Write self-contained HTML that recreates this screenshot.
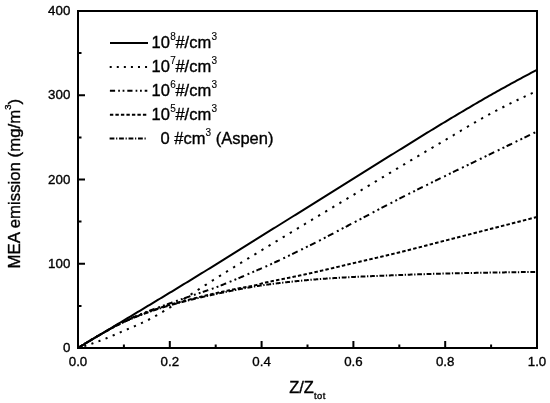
<!DOCTYPE html>
<html><head><meta charset="utf-8"><style>
html,body{margin:0;padding:0;background:#fff;}
svg{display:block;}
</style></head><body>
<svg width="550" height="403" viewBox="0 0 550 403" style="font-family:'Liberation Sans', Arial, sans-serif">
<rect width="550" height="403" fill="#fff"/>
<g fill="none" stroke="#000" stroke-width="2" stroke-linecap="butt" stroke-linejoin="round">
<path d="M78.00,348.00 L80.00,346.80 L81.99,345.60 L83.99,344.40 L85.98,343.19 L87.98,341.99 L89.97,340.79 L91.97,339.59 L93.97,338.39 L95.96,337.19 L97.96,335.99 L99.95,334.78 L101.95,333.58 L103.94,332.38 L105.94,331.18 L107.93,329.98 L109.93,328.78 L111.93,327.57 L113.92,326.37 L115.92,325.17 L117.91,323.97 L119.91,322.77 L121.90,321.57 L123.90,320.37 L125.90,319.16 L127.89,317.96 L129.89,316.77 L131.88,315.57 L133.88,314.37 L135.87,313.17 L137.87,311.97 L139.87,310.77 L141.86,309.58 L143.86,308.38 L145.85,307.18 L147.85,305.98 L149.84,304.78 L151.84,303.58 L153.83,302.38 L155.83,301.18 L157.83,299.98 L159.82,298.77 L161.82,297.57 L163.81,296.36 L165.81,295.15 L167.80,293.94 L169.80,292.73 L171.80,291.52 L173.79,290.31 L175.79,289.09 L177.78,287.87 L179.78,286.66 L181.77,285.44 L183.77,284.22 L185.77,283.00 L187.76,281.78 L189.76,280.56 L191.75,279.34 L193.75,278.11 L195.74,276.89 L197.74,275.66 L199.73,274.44 L201.73,273.21 L203.73,271.98 L205.72,270.75 L207.72,269.52 L209.71,268.29 L211.71,267.06 L213.70,265.83 L215.70,264.59 L217.70,263.36 L219.69,262.12 L221.69,260.88 L223.68,259.64 L225.68,258.40 L227.67,257.16 L229.67,255.91 L231.67,254.67 L233.66,253.42 L235.66,252.17 L237.65,250.93 L239.65,249.68 L241.64,248.43 L243.64,247.18 L245.63,245.93 L247.63,244.68 L249.63,243.43 L251.62,242.18 L253.62,240.94 L255.61,239.69 L257.61,238.44 L259.60,237.19 L261.60,235.95 L263.60,234.70 L265.59,233.46 L267.59,232.21 L269.58,230.97 L271.58,229.72 L273.57,228.47 L275.57,227.23 L277.57,225.98 L279.56,224.74 L281.56,223.49 L283.55,222.25 L285.55,221.00 L287.54,219.76 L289.54,218.51 L291.53,217.27 L293.53,216.02 L295.53,214.78 L297.52,213.53 L299.52,212.28 L301.51,211.04 L303.51,209.79 L305.50,208.55 L307.50,207.30 L309.50,206.06 L311.49,204.81 L313.49,203.57 L315.48,202.32 L317.48,201.08 L319.47,199.83 L321.47,198.58 L323.47,197.34 L325.46,196.09 L327.46,194.85 L329.45,193.60 L331.45,192.36 L333.44,191.11 L335.44,189.87 L337.43,188.62 L339.43,187.38 L341.43,186.13 L343.42,184.88 L345.42,183.64 L347.41,182.39 L349.41,181.15 L351.40,179.90 L353.40,178.66 L355.40,177.41 L357.39,176.17 L359.39,174.92 L361.38,173.67 L363.38,172.42 L365.37,171.17 L367.37,169.93 L369.37,168.68 L371.36,167.43 L373.36,166.18 L375.35,164.93 L377.35,163.68 L379.34,162.44 L381.34,161.19 L383.33,159.94 L385.33,158.70 L387.33,157.45 L389.32,156.21 L391.32,154.97 L393.31,153.73 L395.31,152.49 L397.30,151.25 L399.30,150.01 L401.30,148.78 L403.29,147.54 L405.29,146.30 L407.28,145.06 L409.28,143.83 L411.27,142.59 L413.27,141.35 L415.27,140.11 L417.26,138.88 L419.26,137.64 L421.25,136.41 L423.25,135.18 L425.24,133.95 L427.24,132.72 L429.23,131.49 L431.23,130.27 L433.23,129.05 L435.22,127.83 L437.22,126.62 L439.21,125.40 L441.21,124.19 L443.20,122.99 L445.20,121.79 L447.20,120.59 L449.19,119.39 L451.19,118.20 L453.18,117.00 L455.18,115.81 L457.17,114.62 L459.17,113.43 L461.17,112.24 L463.16,111.06 L465.16,109.87 L467.15,108.69 L469.15,107.52 L471.14,106.34 L473.14,105.18 L475.13,104.01 L477.13,102.85 L479.13,101.69 L481.12,100.53 L483.12,99.38 L485.11,98.24 L487.11,97.10 L489.10,95.96 L491.10,94.83 L493.10,93.70 L495.09,92.58 L497.09,91.46 L499.08,90.34 L501.08,89.23 L503.07,88.12 L505.07,87.01 L507.07,85.91 L509.06,84.81 L511.06,83.72 L513.05,82.62 L515.05,81.54 L517.04,80.45 L519.04,79.37 L521.03,78.29 L523.03,77.22 L525.03,76.15 L527.02,75.08 L529.02,74.02 L531.01,72.96 L533.01,71.91 L535.00,70.85 L537.00,69.81"/>
<path d="M78.00,348.00 L78.40,347.88 L78.81,347.77 L79.21,347.65 M84.30,346.12 L84.80,345.97 L85.30,345.81 L85.80,345.65 L86.30,345.49 M91.38,343.82 L91.88,343.65 L92.38,343.48 L92.88,343.30 L93.38,343.13 M98.47,341.33 L98.97,341.15 L99.47,340.96 L99.97,340.78 L100.47,340.60 M105.55,338.63 L106.05,338.43 L106.55,338.23 L107.05,338.02 L107.55,337.81 M112.64,335.65 L113.14,335.44 L113.64,335.22 L114.14,335.00 L114.64,334.78 M119.73,332.55 L120.23,332.33 L120.73,332.11 L121.23,331.89 L121.73,331.67 M126.81,329.48 L127.21,329.32 L127.61,329.15 L128.01,328.98 L128.41,328.81 L128.81,328.64 M133.90,326.49 L134.40,326.28 L134.90,326.07 L135.40,325.85 L135.90,325.64 M140.98,323.40 L141.48,323.17 L141.98,322.94 L142.48,322.71 L142.98,322.48 M148.07,320.01 L148.57,319.75 L149.07,319.49 L149.57,319.23 L150.07,318.97 M155.16,316.19 L155.66,315.90 L156.16,315.62 L156.66,315.34 L157.16,315.05 M162.24,312.07 L162.74,311.77 L163.24,311.48 L163.74,311.18 L164.24,310.88 M169.33,307.84 L169.83,307.54 L170.33,307.25 L170.83,306.95 L171.33,306.65 M176.41,303.54 L176.91,303.23 L177.41,302.92 L177.91,302.61 L178.41,302.30 M183.50,299.10 L184.00,298.79 L184.50,298.47 L185.00,298.15 L185.50,297.84 M190.59,294.61 L191.09,294.29 L191.59,293.98 L192.09,293.66 L192.59,293.34 M197.67,290.09 L198.17,289.77 L198.67,289.45 L199.17,289.13 L199.67,288.80 M204.76,285.51 L205.26,285.19 L205.76,284.86 L206.26,284.54 L206.76,284.22 M211.84,280.94 L212.34,280.62 L212.84,280.30 L213.34,279.99 L213.84,279.67 M218.93,276.46 L219.43,276.15 L219.93,275.84 L220.43,275.53 L220.93,275.21 M226.02,272.05 L226.52,271.74 L227.02,271.43 L227.52,271.12 L228.02,270.81 M233.10,267.67 L233.60,267.37 L234.10,267.06 L234.60,266.75 L235.10,266.44 M240.19,263.33 L240.69,263.02 L241.19,262.72 L241.69,262.41 L242.19,262.11 M247.27,259.00 L247.77,258.70 L248.27,258.39 L248.77,258.09 L249.27,257.78 M254.36,254.68 L254.86,254.38 L255.36,254.07 L255.86,253.77 L256.36,253.47 M261.45,250.36 L261.95,250.06 L262.45,249.75 L262.95,249.45 L263.45,249.14 M268.53,246.05 L269.03,245.74 L269.53,245.44 L270.03,245.13 L270.53,244.83 M275.62,241.74 L276.12,241.44 L276.62,241.13 L277.12,240.83 L277.62,240.53 M282.70,237.44 L283.20,237.14 L283.70,236.84 L284.20,236.54 L284.70,236.23 M289.79,233.16 L290.29,232.85 L290.79,232.55 L291.29,232.25 L291.79,231.95 M296.88,228.88 L297.38,228.57 L297.88,228.27 L298.38,227.97 L298.88,227.67 M303.96,224.60 L304.46,224.30 L304.96,224.00 L305.46,223.70 L305.96,223.39 M311.05,220.33 L311.55,220.03 L312.05,219.73 L312.55,219.43 L313.05,219.13 M318.13,216.07 L318.63,215.77 L319.13,215.47 L319.63,215.17 L320.13,214.87 M325.22,211.82 L325.72,211.52 L326.22,211.22 L326.72,210.92 L327.22,210.62 M332.31,207.57 L332.81,207.27 L333.31,206.97 L333.81,206.67 L334.31,206.37 M339.39,203.32 L339.89,203.02 L340.39,202.72 L340.89,202.42 L341.39,202.12 M346.48,199.07 L346.98,198.77 L347.48,198.47 L347.98,198.17 L348.48,197.87 M353.56,194.82 L354.06,194.52 L354.56,194.22 L355.06,193.92 L355.56,193.62 M360.65,190.55 L361.15,190.25 L361.65,189.95 L362.15,189.65 L362.65,189.35 M367.74,186.28 L368.24,185.98 L368.74,185.68 L369.24,185.37 L369.74,185.07 M374.82,182.00 L375.32,181.70 L375.82,181.40 L376.32,181.10 L376.82,180.79 M381.91,177.73 L382.41,177.43 L382.91,177.12 L383.41,176.82 L383.91,176.52 M388.99,173.46 L389.49,173.16 L389.99,172.86 L390.49,172.56 L390.99,172.26 M396.08,169.21 L396.58,168.91 L397.08,168.61 L397.58,168.31 L398.08,168.01 M403.17,164.98 L403.67,164.68 L404.17,164.38 L404.67,164.08 L405.17,163.78 M410.25,160.75 L410.75,160.45 L411.25,160.16 L411.75,159.86 L412.25,159.56 M417.34,156.54 L417.84,156.24 L418.34,155.94 L418.84,155.64 L419.34,155.35 M424.42,152.33 L424.92,152.03 L425.42,151.74 L425.92,151.44 L426.42,151.15 M431.51,148.14 L432.01,147.84 L432.51,147.55 L433.01,147.25 L433.51,146.96 M438.60,143.96 L439.10,143.66 L439.60,143.37 L440.10,143.07 L440.60,142.78 M445.68,139.79 L446.18,139.49 L446.68,139.20 L447.18,138.90 L447.68,138.61 M452.77,135.58 L453.27,135.29 L453.77,134.99 L454.27,134.69 L454.77,134.39 M459.85,131.34 L460.35,131.04 L460.85,130.74 L461.35,130.44 L461.85,130.14 M466.94,127.11 L467.44,126.81 L467.94,126.51 L468.44,126.22 L468.94,125.92 M474.03,122.93 L474.53,122.63 L475.03,122.34 L475.53,122.05 L476.03,121.76 M481.11,118.85 L481.61,118.57 L482.11,118.28 L482.61,118.00 L483.11,117.72 M488.20,114.92 L488.70,114.65 L489.20,114.38 L489.70,114.11 L490.20,113.84 M495.28,111.16 L495.78,110.90 L496.28,110.64 L496.78,110.38 L497.28,110.12 M502.37,107.50 L502.87,107.25 L503.37,106.99 L503.87,106.74 L504.37,106.49 M509.46,103.94 L509.96,103.69 L510.46,103.44 L510.96,103.20 L511.46,102.95 M516.54,100.47 L517.04,100.23 L517.54,99.99 L518.04,99.75 L518.54,99.51 M523.63,97.10 L524.13,96.87 L524.63,96.63 L525.13,96.40 L525.63,96.17 M530.71,93.84 L531.21,93.61 L531.71,93.39 L532.21,93.16 L532.71,92.94"/>
<path d="M78.00,348.00 L78.47,347.70 L78.95,347.41 L79.42,347.11 L79.89,346.82 L80.36,346.53 L80.84,346.23 L81.31,345.94 L81.78,345.65 L82.25,345.36 L82.73,345.06 L83.20,344.77 M86.70,342.63 L87.15,342.36 L87.60,342.08 L88.05,341.81 L88.50,341.54 M91.50,339.74 L91.95,339.47 L92.40,339.20 L92.85,338.93 L93.30,338.66 M95.57,337.32 L96.07,337.03 L96.57,336.73 L97.07,336.44 L97.57,336.15 L98.07,335.85 L98.57,335.56 L99.07,335.27 L99.57,334.98 L100.07,334.69 L100.57,334.40 L101.07,334.11 M104.57,332.08 L105.02,331.82 L105.47,331.56 L105.92,331.29 L106.37,331.03 M109.37,329.29 L109.82,329.03 L110.27,328.77 L110.72,328.51 L111.17,328.26 M113.44,326.97 L113.94,326.69 L114.44,326.41 L114.94,326.13 L115.44,325.85 L115.94,325.58 L116.44,325.30 L116.94,325.03 L117.44,324.76 L117.94,324.49 L118.44,324.23 L118.94,323.96 M122.44,322.17 L122.89,321.95 L123.34,321.73 L123.79,321.51 L124.24,321.30 M127.24,319.90 L127.69,319.69 L128.14,319.49 L128.59,319.29 L129.04,319.09 M131.31,318.09 L131.81,317.88 L132.31,317.66 L132.81,317.45 L133.31,317.23 L133.81,317.02 L134.31,316.81 L134.81,316.60 L135.31,316.40 L135.81,316.19 L136.31,315.98 L136.81,315.78 M140.31,314.36 L140.76,314.18 L141.21,314.00 L141.66,313.82 L142.11,313.64 M145.11,312.46 L145.56,312.28 L146.01,312.10 L146.46,311.93 L146.91,311.75 M149.18,310.87 L149.68,310.68 L150.18,310.48 L150.68,310.29 L151.18,310.10 L151.68,309.91 L152.18,309.73 L152.68,309.54 L153.18,309.35 L153.68,309.17 L154.18,308.98 L154.68,308.79 M158.18,307.51 L158.63,307.35 L159.08,307.19 L159.53,307.02 L159.98,306.86 M162.98,305.78 L163.43,305.62 L163.88,305.46 L164.33,305.30 L164.78,305.14 M167.05,304.33 L167.55,304.15 L168.05,303.97 L168.55,303.79 L169.05,303.62 L169.55,303.44 L170.05,303.26 L170.55,303.08 L171.05,302.90 L171.55,302.72 L172.05,302.55 L172.55,302.37 M176.05,301.13 L176.50,300.97 L176.95,300.81 L177.40,300.66 L177.85,300.50 M180.85,299.45 L181.30,299.29 L181.75,299.14 L182.20,298.98 L182.65,298.82 M184.92,298.04 L185.42,297.86 L185.92,297.69 L186.42,297.52 L186.92,297.35 L187.42,297.17 L187.92,297.00 L188.42,296.83 L188.92,296.66 L189.42,296.49 L189.92,296.31 L190.42,296.14 M193.92,294.95 L194.37,294.79 L194.82,294.64 L195.27,294.49 L195.72,294.34 M198.72,293.33 L199.17,293.18 L199.62,293.03 L200.07,292.88 L200.52,292.73 M202.79,291.97 L203.29,291.80 L203.79,291.63 L204.29,291.46 L204.79,291.29 L205.29,291.12 L205.79,290.95 L206.29,290.78 L206.79,290.61 L207.29,290.43 L207.79,290.26 L208.29,290.09 M211.79,288.89 L212.24,288.73 L212.69,288.58 L213.14,288.42 L213.59,288.26 M216.59,287.17 L217.04,287.00 L217.49,286.83 L217.94,286.65 L218.39,286.48 M220.66,285.58 L221.16,285.38 L221.66,285.18 L222.16,284.97 L222.66,284.77 L223.16,284.56 L223.66,284.36 L224.16,284.15 L224.66,283.94 L225.16,283.73 L225.66,283.53 L226.16,283.32 M229.66,281.87 L230.11,281.69 L230.56,281.50 L231.01,281.32 L231.46,281.13 M234.46,279.90 L234.91,279.72 L235.36,279.53 L235.81,279.35 L236.26,279.16 M238.53,278.22 L239.03,278.01 L239.53,277.80 L240.03,277.59 L240.53,277.38 L241.03,277.17 L241.53,276.96 L242.03,276.74 L242.53,276.53 L243.03,276.31 L243.53,276.09 L244.03,275.87 M247.53,274.34 L247.98,274.14 L248.43,273.94 L248.88,273.74 L249.33,273.54 M252.33,272.24 L252.78,272.05 L253.23,271.85 L253.68,271.66 L254.13,271.47 M256.40,270.52 L256.90,270.31 L257.40,270.10 L257.90,269.89 L258.40,269.69 L258.90,269.48 L259.40,269.27 L259.90,269.06 L260.40,268.85 L260.90,268.64 L261.40,268.43 L261.90,268.21 M265.40,266.69 L265.85,266.49 L266.30,266.29 L266.75,266.08 L267.20,265.88 M270.20,264.52 L270.65,264.32 L271.10,264.11 L271.55,263.91 L272.00,263.70 M274.27,262.66 L274.77,262.42 L275.27,262.19 L275.77,261.96 L276.27,261.73 L276.77,261.49 L277.27,261.26 L277.77,261.02 L278.27,260.79 L278.77,260.55 L279.27,260.32 L279.77,260.08 M283.27,258.42 L283.72,258.20 L284.17,257.99 L284.62,257.77 L285.07,257.56 M288.07,256.11 L288.52,255.90 L288.97,255.68 L289.42,255.46 L289.87,255.24 M292.14,254.14 L292.64,253.89 L293.14,253.65 L293.64,253.40 L294.14,253.16 L294.64,252.91 L295.14,252.67 L295.64,252.42 L296.14,252.18 L296.64,251.93 L297.14,251.69 L297.64,251.44 M301.14,249.71 L301.59,249.49 L302.04,249.27 L302.49,249.05 L302.94,248.82 M305.94,247.34 L306.39,247.11 L306.84,246.89 L307.29,246.67 L307.74,246.44 M310.01,245.31 L310.51,245.06 L311.01,244.81 L311.51,244.56 L312.01,244.31 L312.51,244.06 L313.01,243.80 L313.51,243.55 L314.01,243.30 L314.51,243.04 L315.01,242.79 L315.51,242.54 M319.01,240.75 L319.46,240.52 L319.91,240.29 L320.36,240.06 L320.81,239.82 M323.81,238.28 L324.26,238.04 L324.71,237.81 L325.16,237.58 L325.61,237.34 M327.88,236.16 L328.38,235.90 L328.88,235.64 L329.38,235.38 L329.88,235.12 L330.38,234.86 L330.88,234.60 L331.38,234.34 L331.88,234.08 L332.38,233.82 L332.88,233.56 L333.38,233.29 M336.88,231.46 L337.33,231.22 L337.78,230.99 L338.23,230.75 L338.68,230.52 M341.68,228.94 L342.13,228.71 L342.58,228.47 L343.03,228.23 L343.48,228.00 M345.75,226.81 L346.25,226.54 L346.75,226.28 L347.25,226.02 L347.75,225.76 L348.25,225.50 L348.75,225.23 L349.25,224.97 L349.75,224.71 L350.25,224.45 L350.75,224.19 L351.25,223.93 M354.75,222.10 L355.20,221.86 L355.65,221.63 L356.10,221.39 L356.55,221.16 M359.55,219.58 L360.00,219.35 L360.45,219.11 L360.90,218.87 L361.35,218.63 M363.62,217.44 L364.12,217.17 L364.62,216.91 L365.12,216.64 L365.62,216.38 L366.12,216.11 L366.62,215.85 L367.12,215.58 L367.62,215.32 L368.12,215.05 L368.62,214.79 L369.12,214.52 M372.62,212.67 L373.07,212.43 L373.52,212.19 L373.97,211.95 L374.42,211.71 M377.42,210.12 L377.87,209.89 L378.32,209.65 L378.77,209.41 L379.22,209.17 M381.49,207.97 L381.99,207.71 L382.49,207.45 L382.99,207.18 L383.49,206.92 L383.99,206.66 L384.49,206.39 L384.99,206.13 L385.49,205.87 L385.99,205.60 L386.49,205.34 L386.99,205.08 M390.49,203.25 L390.94,203.02 L391.39,202.78 L391.84,202.55 L392.29,202.32 M395.29,200.76 L395.74,200.53 L396.19,200.30 L396.64,200.07 L397.09,199.84 M399.36,198.68 L399.86,198.42 L400.36,198.17 L400.86,197.91 L401.36,197.66 L401.86,197.41 L402.36,197.15 L402.86,196.90 L403.36,196.65 L403.86,196.39 L404.36,196.14 L404.86,195.89 M408.36,194.13 L408.81,193.90 L409.26,193.68 L409.71,193.45 L410.16,193.23 M413.16,191.73 L413.61,191.50 L414.06,191.28 L414.51,191.06 L414.96,190.83 M417.23,189.70 L417.73,189.46 L418.23,189.21 L418.73,188.96 L419.23,188.71 L419.73,188.47 L420.23,188.22 L420.73,187.97 L421.23,187.72 L421.73,187.48 L422.23,187.23 L422.73,186.98 M426.23,185.26 L426.68,185.04 L427.13,184.82 L427.58,184.60 L428.03,184.38 M431.03,182.90 L431.48,182.68 L431.93,182.46 L432.38,182.24 L432.83,182.02 M435.10,180.91 L435.60,180.66 L436.10,180.42 L436.60,180.17 L437.10,179.93 L437.60,179.68 L438.10,179.44 L438.60,179.19 L439.10,178.95 L439.60,178.70 L440.10,178.46 L440.60,178.21 M444.10,176.50 L444.55,176.28 L445.00,176.06 L445.45,175.84 L445.90,175.62 M448.90,174.15 L449.35,173.93 L449.80,173.71 L450.25,173.49 L450.70,173.27 M452.97,172.17 L453.47,171.92 L453.97,171.68 L454.47,171.44 L454.97,171.19 L455.47,170.95 L455.97,170.71 L456.47,170.47 L456.97,170.22 L457.47,169.98 L457.97,169.74 L458.47,169.49 M461.97,167.80 L462.42,167.58 L462.87,167.36 L463.32,167.14 L463.77,166.93 M466.77,165.48 L467.22,165.26 L467.67,165.04 L468.12,164.82 L468.57,164.61 M470.84,163.51 L471.34,163.27 L471.84,163.03 L472.34,162.79 L472.84,162.54 L473.34,162.30 L473.84,162.06 L474.34,161.82 L474.84,161.58 L475.34,161.34 L475.84,161.10 L476.34,160.85 M479.84,159.16 L480.29,158.95 L480.74,158.73 L481.19,158.51 L481.64,158.30 M484.64,156.85 L485.09,156.63 L485.54,156.41 L485.99,156.19 L486.44,155.98 M488.71,154.88 L489.21,154.63 L489.71,154.39 L490.21,154.15 L490.71,153.91 L491.21,153.67 L491.71,153.42 L492.21,153.18 L492.71,152.94 L493.21,152.70 L493.71,152.45 L494.21,152.21 M497.71,150.52 L498.16,150.30 L498.61,150.08 L499.06,149.86 L499.51,149.64 M502.51,148.19 L502.96,147.97 L503.41,147.75 L503.86,147.54 L504.31,147.32 M506.58,146.22 L507.08,145.98 L507.58,145.73 L508.08,145.49 L508.58,145.25 L509.08,145.01 L509.58,144.76 L510.08,144.52 L510.58,144.28 L511.08,144.04 L511.58,143.80 L512.08,143.55 M515.58,141.86 L516.03,141.64 L516.48,141.42 L516.93,141.20 L517.38,140.98 M520.38,139.53 L520.83,139.31 L521.28,139.10 L521.73,138.88 L522.18,138.66 M524.45,137.56 L524.95,137.32 L525.45,137.07 L525.95,136.83 L526.45,136.59 L526.95,136.35 L527.45,136.11 L527.95,135.86 L528.45,135.62 L528.95,135.38 L529.45,135.14 L529.95,134.89 M533.45,133.20 L533.90,132.98 L534.35,132.76 L534.80,132.54 L535.25,132.33"/>
<path d="M78.50,347.68 L78.99,347.38 L79.47,347.07 L79.96,346.76 L80.44,346.46 L80.93,346.15 L81.41,345.85 L81.90,345.54 M83.99,344.25 L84.47,343.95 L84.96,343.65 L85.44,343.35 L85.93,343.05 L86.41,342.75 L86.90,342.46 L87.39,342.16 M89.47,340.90 L89.96,340.61 L90.44,340.31 L90.93,340.02 L91.41,339.73 L91.90,339.44 L92.39,339.15 L92.87,338.87 M94.96,337.64 L95.44,337.35 L95.93,337.07 L96.42,336.79 L96.90,336.51 L97.39,336.22 L97.87,335.94 L98.36,335.66 M100.44,334.47 L100.93,334.19 L101.42,333.92 L101.90,333.64 L102.39,333.37 L102.87,333.09 L103.36,332.82 L103.84,332.54 M105.93,331.36 L106.42,331.09 L106.90,330.81 L107.39,330.54 L107.87,330.27 L108.36,330.00 L108.84,329.72 L109.33,329.45 M111.42,328.30 L111.90,328.03 L112.39,327.77 L112.87,327.50 L113.36,327.24 L113.84,326.98 L114.33,326.72 L114.82,326.46 M116.90,325.36 L117.39,325.10 L117.87,324.85 L118.36,324.60 L118.84,324.35 L119.33,324.11 L119.82,323.86 L120.30,323.62 M122.39,322.60 L122.87,322.37 L123.36,322.14 L123.85,321.91 L124.33,321.68 L124.82,321.46 L125.30,321.23 L125.79,321.01 M127.87,320.06 L128.36,319.85 L128.85,319.63 L129.33,319.42 L129.82,319.20 L130.30,318.99 L130.79,318.78 L131.27,318.57 M133.36,317.68 L133.85,317.47 L134.33,317.27 L134.82,317.07 L135.30,316.87 L135.79,316.67 L136.27,316.47 L136.76,316.27 M138.85,315.43 L139.33,315.23 L139.82,315.04 L140.30,314.85 L140.79,314.66 L141.27,314.47 L141.76,314.28 L142.25,314.09 M144.33,313.30 L144.82,313.12 L145.30,312.94 L145.79,312.75 L146.27,312.57 L146.76,312.40 L147.25,312.22 L147.73,312.04 M149.82,311.29 L150.30,311.11 L150.79,310.94 L151.28,310.77 L151.76,310.60 L152.25,310.43 L152.73,310.26 L153.22,310.09 M155.30,309.37 L155.79,309.21 L156.28,309.04 L156.76,308.88 L157.25,308.72 L157.73,308.55 L158.22,308.39 L158.70,308.23 M160.79,307.55 L161.28,307.40 L161.76,307.24 L162.25,307.09 L162.73,306.93 L163.22,306.78 L163.70,306.63 L164.19,306.48 M166.28,305.83 L166.76,305.69 L167.25,305.54 L167.73,305.39 L168.22,305.25 L168.70,305.10 L169.19,304.96 L169.68,304.82 M171.76,304.21 L172.25,304.07 L172.73,303.93 L173.22,303.80 L173.70,303.66 L174.19,303.53 L174.68,303.39 L175.16,303.26 M177.25,302.69 L177.73,302.56 L178.22,302.43 L178.71,302.30 L179.19,302.17 L179.68,302.04 L180.16,301.91 L180.65,301.79 M182.73,301.25 L183.22,301.12 L183.71,301.00 L184.19,300.87 L184.68,300.75 L185.16,300.62 L185.65,300.50 L186.13,300.38 M188.22,299.85 L188.71,299.73 L189.19,299.61 L189.68,299.48 L190.16,299.36 L190.65,299.24 L191.13,299.12 L191.62,299.00 M193.71,298.47 L194.19,298.35 L194.68,298.23 L195.16,298.11 L195.65,297.99 L196.13,297.87 L196.62,297.75 L197.11,297.63 M199.19,297.12 L199.68,297.00 L200.16,296.88 L200.65,296.76 L201.13,296.65 L201.62,296.53 L202.11,296.41 L202.59,296.29 M204.68,295.79 L205.16,295.68 L205.65,295.56 L206.14,295.45 L206.62,295.33 L207.11,295.22 L207.59,295.10 L208.08,294.99 M210.16,294.50 L210.65,294.39 L211.14,294.28 L211.62,294.17 L212.11,294.05 L212.59,293.94 L213.08,293.83 L213.56,293.72 M215.65,293.25 L216.14,293.14 L216.62,293.03 L217.11,292.92 L217.59,292.81 L218.08,292.70 L218.56,292.60 L219.05,292.49 M221.14,292.03 L221.62,291.92 L222.11,291.81 L222.59,291.70 L223.08,291.60 L223.56,291.49 L224.05,291.39 L224.54,291.28 M226.62,290.83 L227.11,290.73 L227.59,290.62 L228.08,290.52 L228.56,290.42 L229.05,290.31 L229.54,290.21 L230.02,290.11 M232.11,289.67 L232.59,289.57 L233.08,289.47 L233.57,289.37 L234.05,289.27 L234.54,289.17 L235.02,289.07 L235.51,288.98 M237.59,288.56 L238.08,288.46 L238.57,288.37 L239.05,288.27 L239.54,288.18 L240.02,288.09 L240.51,288.00 L240.99,287.91 M243.08,287.54 L243.57,287.46 L244.05,287.37 L244.54,287.29 L245.02,287.21 L245.51,287.13 L245.99,287.04 L246.48,286.96 M248.57,286.60 L249.05,286.51 L249.54,286.43 L250.02,286.34 L250.51,286.25 L250.99,286.16 L251.48,286.07 L251.97,285.97 M254.05,285.55 L254.54,285.44 L255.02,285.33 L255.51,285.22 L255.99,285.10 L256.48,284.98 L256.97,284.85 L257.45,284.72 M259.54,284.13 L260.02,283.99 L260.51,283.86 L261.00,283.72 L261.48,283.58 L261.97,283.44 L262.45,283.31 L262.94,283.18 M265.02,282.67 L265.51,282.55 L266.00,282.44 L266.48,282.33 L266.97,282.22 L267.45,282.12 L267.94,282.01 L268.42,281.91 M270.51,281.46 L271.00,281.36 L271.48,281.26 L271.97,281.17 L272.45,281.07 L272.94,280.97 L273.42,280.87 L273.91,280.78 M276.00,280.36 L276.48,280.27 L276.97,280.17 L277.45,280.08 L277.94,279.98 L278.42,279.89 L278.91,279.79 L279.40,279.70 M281.48,279.29 L281.97,279.19 L282.45,279.09 L282.94,278.99 L283.42,278.89 L283.91,278.79 L284.40,278.69 L284.88,278.59 M286.97,278.16 L287.45,278.06 L287.94,277.96 L288.43,277.86 L288.91,277.76 L289.40,277.66 L289.88,277.56 L290.37,277.46 M292.45,277.03 L292.94,276.93 L293.43,276.83 L293.91,276.73 L294.40,276.63 L294.88,276.53 L295.37,276.43 L295.85,276.33 M297.94,275.90 L298.43,275.80 L298.91,275.69 L299.40,275.59 L299.88,275.49 L300.37,275.39 L300.85,275.29 L301.34,275.18 M303.43,274.74 L303.91,274.64 L304.40,274.53 L304.88,274.43 L305.37,274.32 L305.85,274.22 L306.34,274.11 L306.83,274.01 M308.91,273.55 L309.40,273.44 L309.88,273.33 L310.37,273.23 L310.85,273.12 L311.34,273.01 L311.83,272.90 L312.31,272.79 M314.40,272.32 L314.88,272.21 L315.37,272.10 L315.86,271.99 L316.34,271.88 L316.83,271.77 L317.31,271.66 L317.80,271.55 M319.88,271.07 L320.37,270.95 L320.86,270.84 L321.34,270.73 L321.83,270.62 L322.31,270.50 L322.80,270.39 L323.28,270.28 M325.37,269.79 L325.86,269.68 L326.34,269.56 L326.83,269.45 L327.31,269.33 L327.80,269.22 L328.28,269.11 L328.77,268.99 M330.86,268.50 L331.34,268.38 L331.83,268.27 L332.31,268.15 L332.80,268.04 L333.28,267.92 L333.77,267.81 L334.26,267.69 M336.34,267.20 L336.83,267.08 L337.31,266.97 L337.80,266.85 L338.28,266.74 L338.77,266.62 L339.26,266.51 L339.74,266.39 M341.83,265.89 L342.31,265.78 L342.80,265.66 L343.29,265.55 L343.77,265.43 L344.26,265.32 L344.74,265.20 L345.23,265.09 M347.31,264.59 L347.80,264.48 L348.29,264.36 L348.77,264.25 L349.26,264.13 L349.74,264.02 L350.23,263.90 L350.71,263.79 M352.80,263.30 L353.29,263.19 L353.77,263.07 L354.26,262.96 L354.74,262.85 L355.23,262.73 L355.71,262.62 L356.20,262.51 M358.29,262.02 L358.77,261.91 L359.26,261.80 L359.74,261.68 L360.23,261.57 L360.71,261.46 L361.20,261.34 L361.69,261.23 M363.77,260.75 L364.26,260.64 L364.74,260.52 L365.23,260.41 L365.71,260.30 L366.20,260.19 L366.69,260.07 L367.17,259.96 M369.26,259.48 L369.74,259.37 L370.23,259.25 L370.72,259.14 L371.20,259.03 L371.69,258.92 L372.17,258.80 L372.66,258.69 M374.74,258.21 L375.23,258.09 L375.72,257.98 L376.20,257.87 L376.69,257.76 L377.17,257.64 L377.66,257.53 L378.14,257.42 M380.23,256.93 L380.72,256.82 L381.20,256.70 L381.69,256.59 L382.17,256.47 L382.66,256.36 L383.14,256.25 L383.63,256.13 M385.72,255.64 L386.20,255.53 L386.69,255.41 L387.17,255.30 L387.66,255.18 L388.14,255.07 L388.63,254.95 L389.12,254.84 M391.20,254.34 L391.69,254.22 L392.17,254.10 L392.66,253.99 L393.14,253.87 L393.63,253.75 L394.12,253.64 L394.60,253.52 M396.69,253.01 L397.17,252.90 L397.66,252.78 L398.15,252.66 L398.63,252.54 L399.12,252.42 L399.60,252.30 L400.09,252.18 M402.17,251.67 L402.66,251.55 L403.15,251.43 L403.63,251.30 L404.12,251.18 L404.60,251.06 L405.09,250.94 L405.57,250.82 M407.66,250.29 L408.15,250.17 L408.63,250.05 L409.12,249.92 L409.60,249.80 L410.09,249.68 L410.57,249.55 L411.06,249.43 M413.15,248.90 L413.63,248.77 L414.12,248.65 L414.60,248.52 L415.09,248.40 L415.57,248.27 L416.06,248.15 L416.55,248.02 M418.63,247.48 L419.12,247.36 L419.60,247.23 L420.09,247.11 L420.57,246.98 L421.06,246.85 L421.55,246.73 L422.03,246.60 M424.12,246.06 L424.60,245.93 L425.09,245.81 L425.58,245.68 L426.06,245.55 L426.55,245.43 L427.03,245.30 L427.52,245.17 M429.60,244.63 L430.09,244.50 L430.58,244.38 L431.06,244.25 L431.55,244.12 L432.03,244.00 L432.52,243.87 L433.00,243.74 M435.09,243.20 L435.58,243.07 L436.06,242.95 L436.55,242.82 L437.03,242.69 L437.52,242.57 L438.00,242.44 L438.49,242.32 M440.58,241.77 L441.06,241.65 L441.55,241.52 L442.03,241.40 L442.52,241.27 L443.00,241.15 L443.49,241.02 L443.98,240.90 M446.06,240.36 L446.55,240.23 L447.03,240.11 L447.52,239.99 L448.00,239.86 L448.49,239.74 L448.98,239.61 L449.46,239.49 M451.55,238.95 L452.03,238.83 L452.52,238.70 L453.01,238.58 L453.49,238.45 L453.98,238.33 L454.46,238.20 L454.95,238.08 M457.03,237.54 L457.52,237.42 L458.01,237.29 L458.49,237.17 L458.98,237.04 L459.46,236.92 L459.95,236.79 L460.43,236.67 M462.52,236.13 L463.01,236.01 L463.49,235.88 L463.98,235.76 L464.46,235.63 L464.95,235.51 L465.43,235.38 L465.92,235.26 M468.01,234.72 L468.49,234.60 L468.98,234.47 L469.46,234.35 L469.95,234.22 L470.43,234.10 L470.92,233.97 L471.41,233.85 M473.49,233.31 L473.98,233.19 L474.46,233.06 L474.95,232.94 L475.43,232.81 L475.92,232.69 L476.41,232.56 L476.89,232.44 M478.98,231.90 L479.46,231.78 L479.95,231.65 L480.44,231.53 L480.92,231.40 L481.41,231.28 L481.89,231.15 L482.38,231.03 M484.46,230.49 L484.95,230.37 L485.44,230.24 L485.92,230.12 L486.41,229.99 L486.89,229.87 L487.38,229.74 L487.86,229.62 M489.95,229.08 L490.44,228.96 L490.92,228.83 L491.41,228.71 L491.89,228.58 L492.38,228.46 L492.86,228.33 L493.35,228.21 M495.44,227.67 L495.92,227.55 L496.41,227.42 L496.89,227.30 L497.38,227.17 L497.86,227.05 L498.35,226.92 L498.84,226.80 M500.92,226.26 L501.41,226.14 L501.89,226.01 L502.38,225.89 L502.86,225.76 L503.35,225.64 L503.84,225.51 L504.32,225.39 M506.41,224.85 L506.89,224.73 L507.38,224.60 L507.87,224.48 L508.35,224.35 L508.84,224.23 L509.32,224.10 L509.81,223.98 M511.89,223.44 L512.38,223.32 L512.87,223.19 L513.35,223.07 L513.84,222.94 L514.32,222.82 L514.81,222.69 L515.29,222.57 M517.38,222.03 L517.87,221.91 L518.35,221.78 L518.84,221.66 L519.32,221.53 L519.81,221.41 L520.29,221.28 L520.78,221.16 M522.87,220.62 L523.35,220.50 L523.84,220.37 L524.32,220.25 L524.81,220.12 L525.29,220.00 L525.78,219.87 L526.27,219.75 M528.35,219.21 L528.84,219.09 L529.32,218.96 L529.81,218.84 L530.29,218.71 L530.78,218.59 L531.27,218.46 L531.75,218.34 M533.84,217.80 L534.29,217.69 L534.74,217.57 L535.19,217.46 L535.64,217.34 L536.10,217.22 L536.55,217.11 L537.00,216.99"/>
<path d="M78.00,348.00 L78.50,347.68 L79.00,347.36 L79.50,347.05 L80.00,346.73 L80.50,346.41 L81.00,346.10 L81.50,345.78 L82.00,345.47 L82.50,345.16 M84.10,344.16 L84.53,343.89 L84.97,343.62 L85.40,343.36 M87.13,342.30 L87.61,342.00 L88.09,341.71 L88.57,341.42 L89.05,341.13 L89.53,340.84 L90.01,340.55 L90.49,340.26 L90.97,339.98 L91.45,339.69 L91.93,339.40 M93.53,338.46 L93.96,338.20 L94.40,337.95 L94.83,337.69 M96.56,336.69 L97.04,336.41 L97.52,336.14 L98.00,335.86 L98.48,335.58 L98.96,335.31 L99.44,335.04 L99.92,334.76 L100.40,334.49 L100.88,334.22 L101.36,333.95 M102.96,333.05 L103.39,332.81 L103.83,332.56 L104.26,332.32 M105.99,331.35 L106.47,331.08 L106.95,330.82 L107.43,330.55 L107.91,330.28 L108.39,330.02 L108.87,329.75 L109.35,329.49 L109.83,329.23 L110.31,328.96 L110.79,328.70 M112.39,327.83 L112.82,327.60 L113.26,327.37 L113.69,327.14 M115.42,326.23 L115.90,325.98 L116.38,325.73 L116.86,325.48 L117.34,325.24 L117.82,324.99 L118.30,324.75 L118.78,324.51 L119.26,324.27 L119.74,324.03 L120.22,323.80 M121.82,323.02 L122.25,322.82 L122.69,322.61 L123.12,322.41 M124.85,321.62 L125.33,321.40 L125.81,321.19 L126.29,320.97 L126.77,320.76 L127.25,320.55 L127.73,320.34 L128.21,320.13 L128.69,319.92 L129.17,319.71 L129.65,319.51 M131.25,318.83 L131.68,318.65 L132.12,318.47 L132.55,318.29 M134.28,317.58 L134.76,317.38 L135.24,317.19 L135.72,317.00 L136.20,316.80 L136.68,316.61 L137.16,316.42 L137.64,316.23 L138.12,316.05 L138.60,315.86 L139.08,315.67 M140.68,315.06 L141.11,314.90 L141.55,314.73 L141.98,314.57 M143.71,313.93 L144.19,313.75 L144.67,313.57 L145.15,313.40 L145.63,313.22 L146.11,313.05 L146.59,312.88 L147.07,312.70 L147.55,312.53 L148.03,312.36 L148.51,312.19 M150.11,311.63 L150.54,311.48 L150.98,311.33 L151.41,311.18 M153.14,310.59 L153.62,310.43 L154.10,310.27 L154.58,310.11 L155.06,309.95 L155.54,309.79 L156.02,309.63 L156.50,309.47 L156.98,309.32 L157.46,309.16 L157.94,309.01 M159.54,308.49 L159.97,308.35 L160.41,308.22 L160.84,308.08 M162.57,307.54 L163.05,307.39 L163.53,307.24 L164.01,307.10 L164.49,306.95 L164.97,306.80 L165.45,306.66 L165.93,306.51 L166.41,306.37 L166.89,306.23 L167.37,306.08 M168.97,305.61 L169.40,305.49 L169.84,305.36 L170.27,305.23 M172.00,304.74 L172.48,304.60 L172.96,304.46 L173.44,304.33 L173.92,304.20 L174.40,304.06 L174.88,303.93 L175.36,303.80 L175.84,303.66 L176.32,303.53 L176.80,303.40 M178.40,302.97 L178.83,302.85 L179.27,302.74 L179.70,302.62 M181.43,302.16 L181.91,302.04 L182.39,301.91 L182.87,301.79 L183.35,301.66 L183.83,301.54 L184.31,301.42 L184.79,301.29 L185.27,301.17 L185.75,301.05 L186.23,300.93 M187.83,300.52 L188.26,300.41 L188.70,300.31 L189.13,300.20 M190.86,299.77 L191.34,299.65 L191.82,299.53 L192.30,299.41 L192.78,299.30 L193.26,299.18 L193.74,299.06 L194.22,298.95 L194.70,298.83 L195.18,298.71 L195.66,298.60 M197.26,298.22 L197.69,298.12 L198.13,298.02 L198.56,297.91 M200.29,297.51 L200.77,297.40 L201.25,297.29 L201.73,297.18 L202.21,297.07 L202.69,296.96 L203.17,296.85 L203.65,296.74 L204.13,296.63 L204.61,296.52 L205.09,296.41 M206.69,296.06 L207.12,295.96 L207.56,295.86 L207.99,295.77 M209.72,295.38 L210.20,295.28 L210.68,295.17 L211.16,295.07 L211.64,294.96 L212.12,294.86 L212.60,294.75 L213.08,294.65 L213.56,294.54 L214.04,294.44 L214.52,294.34 M216.12,293.99 L216.55,293.90 L216.99,293.80 L217.42,293.71 M219.15,293.34 L219.63,293.23 L220.11,293.13 L220.59,293.03 L221.07,292.93 L221.55,292.82 L222.03,292.72 L222.51,292.62 L222.99,292.52 L223.47,292.42 L223.95,292.31 M225.55,291.98 L225.98,291.89 L226.42,291.80 L226.85,291.71 M228.58,291.35 L229.06,291.25 L229.54,291.15 L230.02,291.05 L230.50,290.96 L230.98,290.86 L231.46,290.76 L231.94,290.67 L232.42,290.57 L232.90,290.47 L233.38,290.38 M234.98,290.06 L235.41,289.98 L235.85,289.90 L236.28,289.81 M238.01,289.48 L238.49,289.39 L238.97,289.30 L239.45,289.21 L239.93,289.12 L240.41,289.03 L240.89,288.94 L241.37,288.85 L241.85,288.76 L242.33,288.68 L242.81,288.59 M244.41,288.29 L244.84,288.21 L245.28,288.13 L245.71,288.05 M247.44,287.74 L247.92,287.66 L248.40,287.57 L248.88,287.49 L249.36,287.40 L249.84,287.32 L250.32,287.23 L250.80,287.15 L251.28,287.07 L251.76,286.98 L252.24,286.90 M253.84,286.63 L254.27,286.56 L254.71,286.48 L255.14,286.41 M256.87,286.13 L257.35,286.05 L257.83,285.98 L258.31,285.90 L258.79,285.83 L259.27,285.75 L259.75,285.68 L260.23,285.61 L260.71,285.53 L261.19,285.46 L261.67,285.39 M263.27,285.16 L263.70,285.10 L264.14,285.04 L264.57,284.97 M266.30,284.73 L266.78,284.67 L267.26,284.60 L267.74,284.53 L268.22,284.47 L268.70,284.40 L269.18,284.34 L269.66,284.28 L270.14,284.21 L270.62,284.15 L271.10,284.09 M272.70,283.88 L273.13,283.83 L273.57,283.77 L274.00,283.72 M275.73,283.50 L276.21,283.44 L276.69,283.38 L277.17,283.32 L277.65,283.26 L278.13,283.21 L278.61,283.15 L279.09,283.09 L279.57,283.03 L280.05,282.98 L280.53,282.92 M282.13,282.73 L282.56,282.68 L283.00,282.63 L283.43,282.58 M285.16,282.38 L285.64,282.33 L286.12,282.28 L286.60,282.22 L287.08,282.17 L287.56,282.11 L288.04,282.06 L288.52,282.01 L289.00,281.95 L289.48,281.90 L289.96,281.85 M291.56,281.67 L291.99,281.63 L292.43,281.58 L292.86,281.53 M294.59,281.35 L295.07,281.30 L295.55,281.25 L296.03,281.20 L296.51,281.15 L296.99,281.10 L297.47,281.05 L297.95,281.00 L298.43,280.95 L298.91,280.91 L299.39,280.86 M300.99,280.70 L301.42,280.66 L301.86,280.62 L302.29,280.57 M304.02,280.41 L304.50,280.37 L304.98,280.32 L305.46,280.28 L305.94,280.23 L306.42,280.19 L306.90,280.15 L307.38,280.11 L307.86,280.06 L308.34,280.02 L308.82,279.98 M310.42,279.84 L310.85,279.80 L311.29,279.77 L311.72,279.73 M313.45,279.59 L313.93,279.55 L314.41,279.51 L314.89,279.47 L315.37,279.43 L315.85,279.39 L316.33,279.36 L316.81,279.32 L317.29,279.28 L317.77,279.24 L318.25,279.20 M319.85,279.08 L320.28,279.05 L320.72,279.02 L321.15,278.98 M322.88,278.85 L323.36,278.82 L323.84,278.78 L324.32,278.75 L324.80,278.72 L325.28,278.68 L325.76,278.65 L326.24,278.61 L326.72,278.58 L327.20,278.55 L327.68,278.51 M329.28,278.40 L329.71,278.37 L330.15,278.35 L330.58,278.32 M332.31,278.20 L332.79,278.17 L333.27,278.14 L333.75,278.11 L334.23,278.08 L334.71,278.05 L335.19,278.02 L335.67,277.99 L336.15,277.96 L336.63,277.93 L337.11,277.90 M338.71,277.80 L339.14,277.77 L339.58,277.74 L340.01,277.72 M341.74,277.61 L342.22,277.59 L342.70,277.56 L343.18,277.53 L343.66,277.50 L344.14,277.47 L344.62,277.45 L345.10,277.42 L345.58,277.39 L346.06,277.37 L346.54,277.34 M348.14,277.25 L348.57,277.23 L349.01,277.20 L349.44,277.18 M351.17,277.09 L351.65,277.07 L352.13,277.04 L352.61,277.02 L353.09,276.99 L353.57,276.97 L354.05,276.94 L354.53,276.92 L355.01,276.90 L355.49,276.87 L355.97,276.85 M357.57,276.77 L358.00,276.75 L358.44,276.73 L358.87,276.71 M360.60,276.63 L361.08,276.61 L361.56,276.58 L362.04,276.56 L362.52,276.54 L363.00,276.52 L363.48,276.49 L363.96,276.47 L364.44,276.45 L364.92,276.43 L365.40,276.41 M367.00,276.34 L367.43,276.32 L367.87,276.30 L368.30,276.28 M370.03,276.20 L370.51,276.18 L370.99,276.16 L371.47,276.14 L371.95,276.12 L372.43,276.10 L372.91,276.08 L373.39,276.06 L373.87,276.04 L374.35,276.02 L374.83,276.00 M376.43,275.93 L376.86,275.91 L377.30,275.89 L377.73,275.88 M379.46,275.81 L379.94,275.79 L380.42,275.77 L380.90,275.75 L381.38,275.73 L381.86,275.71 L382.34,275.69 L382.82,275.67 L383.30,275.65 L383.78,275.63 L384.26,275.61 M385.86,275.55 L386.29,275.53 L386.73,275.52 L387.16,275.50 M388.89,275.43 L389.37,275.41 L389.85,275.40 L390.33,275.38 L390.81,275.36 L391.29,275.34 L391.77,275.32 L392.25,275.30 L392.73,275.29 L393.21,275.27 L393.69,275.25 M395.29,275.19 L395.72,275.17 L396.16,275.16 L396.59,275.14 M398.32,275.08 L398.80,275.06 L399.28,275.04 L399.76,275.02 L400.24,275.00 L400.72,274.99 L401.20,274.97 L401.68,274.95 L402.16,274.93 L402.64,274.92 L403.12,274.90 M404.72,274.84 L405.15,274.82 L405.59,274.81 L406.02,274.79 M407.75,274.73 L408.23,274.71 L408.71,274.69 L409.19,274.67 L409.67,274.66 L410.15,274.64 L410.63,274.62 L411.11,274.61 L411.59,274.59 L412.07,274.57 L412.55,274.55 M414.15,274.50 L414.58,274.48 L415.02,274.46 L415.45,274.45 M417.18,274.39 L417.66,274.37 L418.14,274.35 L418.62,274.34 L419.10,274.32 L419.58,274.30 L420.06,274.29 L420.54,274.27 L421.02,274.25 L421.50,274.24 L421.98,274.22 M423.58,274.17 L424.01,274.15 L424.45,274.14 L424.88,274.12 M426.61,274.07 L427.09,274.05 L427.57,274.04 L428.05,274.02 L428.53,274.00 L429.01,273.99 L429.49,273.97 L429.97,273.96 L430.45,273.94 L430.93,273.93 L431.41,273.91 M433.01,273.86 L433.44,273.85 L433.88,273.84 L434.31,273.82 M436.04,273.77 L436.52,273.76 L437.00,273.74 L437.48,273.73 L437.96,273.72 L438.44,273.70 L438.92,273.69 L439.40,273.68 L439.88,273.66 L440.36,273.65 L440.84,273.64 M442.44,273.59 L442.87,273.58 L443.31,273.57 L443.74,273.56 M445.47,273.52 L445.95,273.50 L446.43,273.49 L446.91,273.48 L447.39,273.47 L447.87,273.46 L448.35,273.45 L448.83,273.43 L449.31,273.42 L449.79,273.41 L450.27,273.40 M451.87,273.36 L452.30,273.35 L452.74,273.34 L453.17,273.33 M454.90,273.29 L455.38,273.28 L455.86,273.27 L456.34,273.26 L456.82,273.25 L457.30,273.24 L457.78,273.23 L458.26,273.22 L458.74,273.21 L459.22,273.20 L459.70,273.19 M461.30,273.15 L461.73,273.14 L462.17,273.13 L462.60,273.13 M464.33,273.09 L464.81,273.08 L465.29,273.07 L465.77,273.06 L466.25,273.05 L466.73,273.04 L467.21,273.03 L467.69,273.02 L468.17,273.01 L468.65,273.00 L469.13,272.99 M470.73,272.96 L471.16,272.95 L471.60,272.95 L472.03,272.94 M473.76,272.91 L474.24,272.90 L474.72,272.89 L475.20,272.88 L475.68,272.87 L476.16,272.86 L476.64,272.85 L477.12,272.84 L477.60,272.83 L478.08,272.82 L478.56,272.82 M480.16,272.79 L480.59,272.78 L481.03,272.77 L481.46,272.76 M483.19,272.73 L483.67,272.72 L484.15,272.72 L484.63,272.71 L485.11,272.70 L485.59,272.69 L486.07,272.68 L486.55,272.67 L487.03,272.67 L487.51,272.66 L487.99,272.65 M489.59,272.62 L490.02,272.61 L490.46,272.61 L490.89,272.60 M492.62,272.57 L493.10,272.56 L493.58,272.55 L494.06,272.55 L494.54,272.54 L495.02,272.53 L495.50,272.52 L495.98,272.51 L496.46,272.51 L496.94,272.50 L497.42,272.49 M499.02,272.46 L499.45,272.46 L499.89,272.45 L500.32,272.44 M502.05,272.42 L502.53,272.41 L503.01,272.40 L503.49,272.39 L503.97,272.38 L504.45,272.38 L504.93,272.37 L505.41,272.36 L505.89,272.35 L506.37,272.35 L506.85,272.34 M508.45,272.31 L508.88,272.31 L509.32,272.30 L509.75,272.29 M511.48,272.27 L511.96,272.26 L512.44,272.25 L512.92,272.25 L513.40,272.24 L513.88,272.23 L514.36,272.23 L514.84,272.22 L515.32,272.21 L515.80,272.20 L516.28,272.20 M517.88,272.17 L518.31,272.17 L518.75,272.16 L519.18,272.16 M520.91,272.13 L521.39,272.12 L521.87,272.12 L522.35,272.11 L522.83,272.10 L523.31,272.10 L523.79,272.09 L524.27,272.08 L524.75,272.08 L525.23,272.07 L525.71,272.07 M527.31,272.04 L527.74,272.04 L528.18,272.03 L528.61,272.03 M530.34,272.00 L530.82,272.00 L531.30,271.99 L531.78,271.99 L532.26,271.98 L532.74,271.97 L533.22,271.97 L533.70,271.96 L534.18,271.96 L534.66,271.95 L535.14,271.94 M536.74,271.93 L537.00,271.92"/>
<path d="M110,43 H148 M109.70,66.9 H111.70 M116.77,66.9 H118.77 M123.84,66.9 H125.84 M130.91,66.9 H132.91 M137.98,66.9 H139.98 M145.05,66.9 H147.05 M109.90,90.8 H115.10 M118.20,90.8 H119.90 M122.60,90.8 H124.40 M127.30,90.8 H132.50 M135.60,90.8 H137.30 M140.00,90.8 H141.80 M144.70,90.8 H147.30 M109.90,114.7 H113.30 M115.40,114.7 H118.80 M120.90,114.7 H124.30 M126.40,114.7 H129.80 M131.90,114.7 H135.30 M137.40,114.7 H140.80 M142.90,114.7 H146.30 M109.60,138.6 H114.40 M116.10,138.6 H117.30 M119.07,138.6 H123.87 M125.57,138.6 H126.77 M128.54,138.6 H133.34 M135.04,138.6 H136.24 M138.01,138.6 H142.81 M144.51,138.6 H145.71"/>
<path d="M123.90,348 V344.50 M169.80,348 V341.00 M215.70,348 V344.50 M261.60,348 V341.00 M307.50,348 V344.50 M353.40,348 V341.00 M399.30,348 V344.50 M445.20,348 V341.00 M491.10,348 V344.50 M78,305.88 H81.50 M78,263.75 H85.00 M78,221.62 H81.50 M78,179.50 H85.00 M78,137.38 H81.50 M78,95.25 H85.00 M78,53.12 H81.50"/>
<rect x="78" y="11" width="459" height="337" stroke-linejoin="miter"/>
</g>
<g fill="#000" stroke="#000" stroke-width="0.35" font-size="13.3">
<text x="70.3" y="352.10" text-anchor="end">0</text><text x="70.3" y="267.85" text-anchor="end">100</text><text x="70.3" y="183.60" text-anchor="end">200</text><text x="70.3" y="99.35" text-anchor="end">300</text><text x="70.3" y="15.10" text-anchor="end">400</text>
<text x="78.00" y="366.1" text-anchor="middle">0.0</text><text x="169.80" y="366.1" text-anchor="middle">0.2</text><text x="261.60" y="366.1" text-anchor="middle">0.4</text><text x="353.40" y="366.1" text-anchor="middle">0.6</text><text x="445.20" y="366.1" text-anchor="middle">0.8</text><text x="537.00" y="366.1" text-anchor="middle">1.0</text>
</g>
<g fill="#000" stroke="#000" stroke-width="0.35">
<text x="151.6" y="48.30" font-size="16.5">10<tspan dx="0.3" dy="-8.1" font-size="10" stroke-width="0.12">8</tspan><tspan dx="-0.4" dy="8.1">#/cm</tspan><tspan dx="0.2" dy="-8.1" font-size="10" stroke-width="0.12">3</tspan></text><text x="151.6" y="72.20" font-size="16.5">10<tspan dx="0.3" dy="-8.1" font-size="10" stroke-width="0.12">7</tspan><tspan dx="-0.4" dy="8.1">#/cm</tspan><tspan dx="0.2" dy="-8.1" font-size="10" stroke-width="0.12">3</tspan></text><text x="151.6" y="96.10" font-size="16.5">10<tspan dx="0.3" dy="-8.1" font-size="10" stroke-width="0.12">6</tspan><tspan dx="-0.4" dy="8.1">#/cm</tspan><tspan dx="0.2" dy="-8.1" font-size="10" stroke-width="0.12">3</tspan></text><text x="151.6" y="120.00" font-size="16.5">10<tspan dx="0.3" dy="-8.1" font-size="10" stroke-width="0.12">5</tspan><tspan dx="-0.4" dy="8.1">#/cm</tspan><tspan dx="0.2" dy="-8.1" font-size="10" stroke-width="0.12">3</tspan></text><text x="160.6" y="143.90" font-size="16.5">0 #cm<tspan dy="-8.1" font-size="10" stroke-width="0.12">3</tspan><tspan dy="8.1"> (Aspen)</tspan></text>
<text x="289.2" y="392.6" font-size="16.5">Z/Z<tspan dy="6.1" font-size="9.4" letter-spacing="0.45">tot</tspan></text>
<text transform="translate(20.3,268.4) rotate(-90)" font-size="16.8">MEA emission (mg/m<tspan dy="-8.9" font-size="9.5">3</tspan><tspan dy="8.9">)</tspan></text>
</g>
</svg>
</body></html>
